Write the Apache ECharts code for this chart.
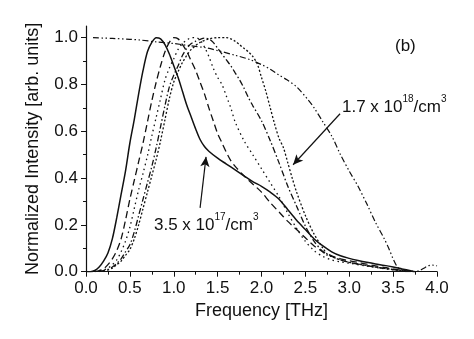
<!DOCTYPE html>
<html><head><meta charset="utf-8">
<script src="https://cdn.jsdelivr.net/npm/echarts@6/dist/echarts.min.js"></script>
<style>html,body{margin:0;padding:0;background:#fff}#c{width:474px;height:339px}</style>
</head><body><div id="c"></div>
<script>
// Frequency [THz], normalized intensity
const solidCurve = [[0,0],[0.05,0],[0.1,0.005],[0.15,0.02],[0.2,0.045],[0.25,0.08],[0.3,0.14],[0.35,0.23],[0.4,0.33],[0.45,0.43],[0.5,0.55],[0.55,0.65],[0.6,0.76],[0.65,0.86],[0.7,0.94],[0.75,0.98],[0.8,1.0],[0.85,0.995],[0.9,0.97],[0.95,0.93],[1.0,0.88],[1.05,0.83],[1.1,0.77],[1.15,0.71],[1.2,0.66],[1.25,0.61],[1.3,0.565],[1.35,0.535],[1.4,0.515],[1.5,0.485],[1.6,0.46],[1.7,0.435],[1.8,0.41],[1.9,0.385],[2.0,0.365],[2.1,0.34],[2.2,0.31],[2.3,0.265],[2.4,0.22],[2.5,0.18],[2.6,0.14],[2.7,0.11],[2.8,0.085],[2.9,0.068],[3.0,0.057],[3.1,0.048],[3.2,0.04],[3.3,0.033],[3.4,0.027],[3.5,0.02],[3.6,0.012],[3.7,0.004],[3.75,0]];
const dashCurve = [[0.1,0],[0.15,0.005],[0.2,0.012],[0.25,0.03],[0.3,0.055],[0.35,0.09],[0.4,0.14],[0.45,0.22],[0.5,0.31],[0.55,0.39],[0.6,0.47],[0.65,0.55],[0.7,0.64],[0.75,0.73],[0.8,0.81],[0.85,0.88],[0.9,0.94],[0.95,0.98],[1.0,1.0],[1.05,0.995],[1.1,0.97],[1.15,0.94],[1.2,0.9],[1.25,0.86],[1.3,0.81],[1.35,0.76],[1.4,0.7],[1.45,0.645],[1.5,0.59],[1.55,0.55],[1.6,0.51],[1.65,0.475],[1.7,0.45],[1.8,0.41],[1.9,0.375],[2.0,0.34],[2.1,0.295],[2.2,0.255],[2.3,0.215],[2.4,0.18],[2.5,0.145],[2.6,0.11],[2.7,0.085],[2.8,0.068],[2.9,0.055],[3.0,0.047],[3.1,0.04],[3.2,0.032],[3.3,0.025],[3.4,0.018],[3.5,0.012],[3.6,0.006],[3.7,0.002],[3.75,0]];
const dotCurve = [[0.1,0],[0.2,0.008],[0.25,0.015],[0.3,0.03],[0.35,0.05],[0.4,0.085],[0.45,0.13],[0.5,0.19],[0.55,0.27],[0.6,0.35],[0.65,0.42],[0.7,0.495],[0.75,0.58],[0.8,0.66],[0.85,0.74],[0.9,0.82],[0.95,0.87],[1.0,0.91],[1.05,0.95],[1.1,0.975],[1.15,0.99],[1.2,1.0],[1.25,1.0],[1.3,0.99],[1.35,0.96],[1.4,0.92],[1.45,0.87],[1.5,0.83],[1.55,0.8],[1.6,0.75],[1.65,0.7],[1.7,0.64],[1.8,0.56],[1.9,0.5],[2.0,0.44],[2.1,0.38],[2.2,0.32],[2.3,0.25],[2.4,0.185],[2.5,0.13],[2.6,0.09],[2.7,0.065],[2.8,0.05],[2.9,0.042],[3.0,0.036],[3.2,0.024],[3.4,0.013],[3.6,0.005],[3.75,0]];
const dashDotCurve = [[0.15,0],[0.25,0.01],[0.3,0.02],[0.35,0.035],[0.4,0.055],[0.45,0.085],[0.5,0.115],[0.55,0.17],[0.6,0.24],[0.65,0.31],[0.7,0.38],[0.75,0.45],[0.8,0.53],[0.85,0.62],[0.9,0.71],[0.95,0.79],[1.0,0.84],[1.05,0.88],[1.1,0.925],[1.15,0.955],[1.2,0.975],[1.25,0.985],[1.3,0.993],[1.35,0.998],[1.4,0.995],[1.45,0.98],[1.5,0.955],[1.55,0.93],[1.6,0.905],[1.65,0.88],[1.7,0.85],[1.75,0.82],[1.8,0.785],[1.85,0.745],[1.9,0.71],[2.0,0.645],[2.1,0.56],[2.2,0.465],[2.3,0.365],[2.4,0.28],[2.5,0.195],[2.6,0.13],[2.7,0.085],[2.75,0.07],[2.8,0.065],[2.9,0.05],[3.0,0.04],[3.2,0.026],[3.4,0.014],[3.6,0.005],[3.75,0]];
const shortDotCurve = [[0.2,0],[0.3,0.015],[0.35,0.03],[0.4,0.045],[0.45,0.07],[0.5,0.095],[0.55,0.14],[0.6,0.2],[0.65,0.27],[0.7,0.34],[0.75,0.41],[0.8,0.48],[0.85,0.56],[0.9,0.65],[0.95,0.74],[1.0,0.81],[1.05,0.855],[1.1,0.895],[1.15,0.925],[1.2,0.95],[1.3,0.98],[1.4,0.995],[1.5,1.0],[1.6,1.0],[1.65,0.995],[1.7,0.985],[1.75,0.97],[1.8,0.955],[1.85,0.94],[1.9,0.92],[1.95,0.89],[2.0,0.83],[2.05,0.77],[2.1,0.7],[2.15,0.63],[2.2,0.57],[2.25,0.53],[2.3,0.465],[2.35,0.4],[2.4,0.34],[2.5,0.24],[2.6,0.16],[2.7,0.1],[2.75,0.075],[2.8,0.065],[2.9,0.05],[3.0,0.04],[3.2,0.026],[3.4,0.014],[3.6,0.005],[3.75,0]];
const dashDotDotCurve = [[0.08,1.0],[0.3,0.997],[0.5,0.993],[0.62,0.99],[0.8,0.982],[1.0,0.975],[1.2,0.965],[1.38,0.956],[1.5,0.945],[1.7,0.925],[1.87,0.906],[2.0,0.885],[2.1,0.865],[2.2,0.84],[2.29,0.82],[2.4,0.79],[2.53,0.735],[2.6,0.7],[2.7,0.64],[2.8,0.58],[2.9,0.5],[3.0,0.43],[3.1,0.365],[3.2,0.29],[3.3,0.21],[3.4,0.14],[3.45,0.1],[3.5,0.055],[3.55,0.02],[3.6,0.008],[3.65,0],[3.75,0],[3.8,0.005],[3.85,0.015],[3.9,0.025],[3.95,0.028],[4.0,0.025]];
const arrowHigh = [[2.895,0.675],[2.36,0.457]];
const arrowLow = [[1.30,0.273],[1.368,0.491]];
const yMajorTicks = [0,0.2,0.4,0.6,0.8,1.0];
const yMinorTicks = [0.1,0.3,0.5,0.7,0.9];

const FONT = '"Liberation Sans", Arial, sans-serif';
const chart = echarts.init(document.getElementById('c'), null, {renderer:'canvas'});
function line(data, type, width){
  return {type:'line', data:data, symbol:'none', smooth:0.3, silent:true,
    lineStyle:{color:'#111', width:width, type:type}};
}
const s0 = line(solidCurve,'solid',1.5);
s0.markLine = {silent:true, symbol:['none','arrow'], symbolSize:[7,10], animation:false,
  label:{show:false}, lineStyle:{type:'solid', color:'#111', width:1.2},
  data:[[{coord:arrowHigh[0]},{coord:arrowHigh[1]}],[{coord:arrowLow[0]},{coord:arrowLow[1]}]]};
chart.setOption({
  animation:false,
  grid:{left:86, right:37, top:26, bottom:67.3},
  xAxis:{type:'value', min:0, max:4, interval:0.5,
    name:'Frequency [THz]', nameLocation:'middle', nameGap:26,
    nameTextStyle:{fontFamily:FONT, fontSize:18, color:'#111'},
    axisLine:{lineStyle:{color:'#111', width:1.2}},
    axisTick:{inside:false, length:5, lineStyle:{color:'#111'}},
    minorTick:{show:true, splitNumber:2, length:3, lineStyle:{color:'#111'}},
    axisLabel:{fontFamily:FONT, fontSize:17, color:'#111', margin:8, formatter:v=>v.toFixed(1)},
    splitLine:{show:false}},
  yAxis:[{type:'value', min:0, max:1.05,
    name:'Normalized Intensity [arb. units]', nameLocation:'middle', nameGap:44,
    nameTextStyle:{fontFamily:FONT, fontSize:18, color:'#111'},
    axisLine:{show:true, lineStyle:{color:'#111', width:1.2}},
    axisTick:{show:true, length:5, customValues:yMajorTicks, lineStyle:{color:'#111'}},
    axisLabel:{fontFamily:FONT, fontSize:17, color:'#111', margin:8, customValues:yMajorTicks, formatter:v=>v.toFixed(1)},
    splitLine:{show:false}},
   {type:'value', min:0, max:1.05, position:'left',
    axisLine:{show:false},
    axisTick:{show:true, length:3, customValues:yMinorTicks, lineStyle:{color:'#111'}},
    axisLabel:{show:false}, splitLine:{show:false}}],
  series:[
    s0,
    line(dashCurve,[7,4],1.3),
    line(dotCurve,[1.5,3.5],1.3),
    line(dashDotCurve,[6,2.5,1.5,2.5],1.3),
    line(shortDotCurve,[2,2],1.3),
    line(dashDotDotCurve,[6,2.5,1.5,2.5,1.5,2.5],1.2)
  ],
  graphic:[
    {type:'text', left:395, top:38, silent:true, style:{text:'(b)', fontFamily:FONT, fontSize:17, fill:'#111'}},
    {type:'text', left:342, top:94, silent:true, style:{
      text:'{a|1.7 x 10}{s|18}{a|/cm}{s|3}',
      rich:{a:{fontFamily:FONT, fontSize:17, fill:'#111', lineHeight:22, verticalAlign:'bottom'},
            s:{fontFamily:FONT, fontSize:10, fill:'#111', lineHeight:22, verticalAlign:'top'}}}},
    {type:'text', left:154, top:212, silent:true, style:{
      text:'{a|3.5 x 10}{s|17}{a|/cm}{s|3}',
      rich:{a:{fontFamily:FONT, fontSize:17, fill:'#111', lineHeight:22, verticalAlign:'bottom'},
            s:{fontFamily:FONT, fontSize:10, fill:'#111', lineHeight:22, verticalAlign:'top'}}}}
  ]
});
</script></body></html>
